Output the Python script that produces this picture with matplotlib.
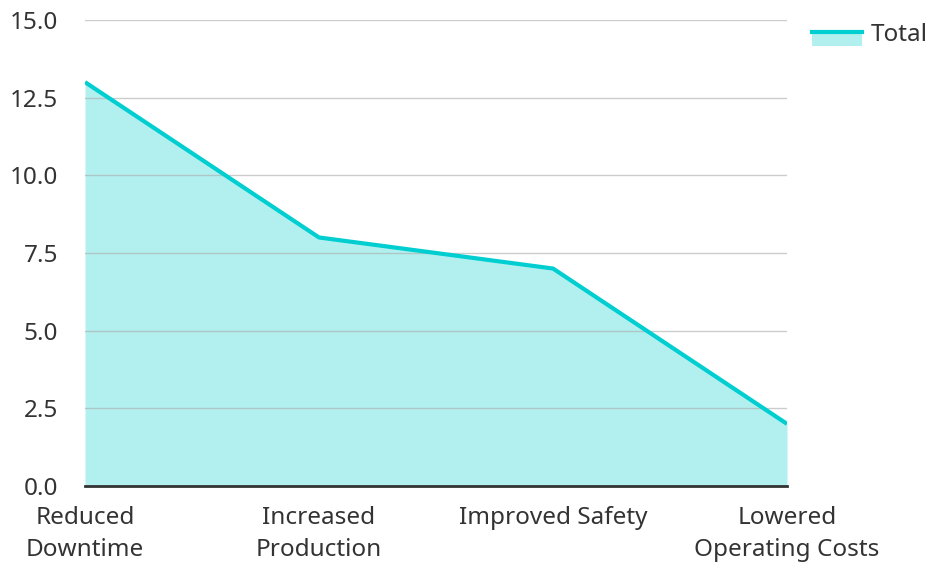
import matplotlib
matplotlib.use("Agg")
import matplotlib.pyplot as plt
from matplotlib.legend_handler import HandlerBase
from matplotlib.patches import Rectangle
from matplotlib.lines import Line2D

categories = ["Reduced\nDowntime", "Increased\nProduction", "Improved Safety", "Lowered\nOperating Costs"]
totals = [13.0, 8.0, 7.0, 2.0]
yticks = [0.0, 2.5, 5.0, 7.5, 10.0, 12.5, 15.0]

LINE = "#00CED1"
FILL = "#B2F0F0"
TEXT = "#333333"
FS = 17.5

plt.rcParams["font.family"] = ["Noto Sans", "DejaVu Sans"]

fig = plt.figure(figsize=(9.28, 5.62), dpi=100)
ax = fig.add_axes([85 / 928, 1 - 486 / 562, (787 - 85) / 928, (486 - 20) / 562])

x = list(range(len(categories)))
ax.fill_between(x, totals, 0, color=FILL, linewidth=0, zorder=1)
ax.plot(x, totals, color=LINE, linewidth=3, zorder=3, solid_capstyle="butt")

ax.set_xlim(0, len(categories) - 1)
ax.set_ylim(0, 15)
ax.set_yticks(yticks)
ax.set_yticklabels([f"{v:.1f}" for v in yticks])
ax.set_xticks(x)
ax.set_xticklabels(categories, linespacing=1.42)
ax.tick_params(axis="both", length=0, labelsize=FS, colors=TEXT)
ax.tick_params(axis="y", pad=19.5)
ax.tick_params(axis="x", pad=14.5)

ax.grid(axis="y", color="#aaaaaa", linewidth=1, alpha=0.6, zorder=2)
ax.set_axisbelow(False)
for s in ["left", "right", "top"]:
    ax.spines[s].set_visible(False)
ax.spines["bottom"].set_color(TEXT)
ax.spines["bottom"].set_linewidth(2)
ax.spines["bottom"].set_zorder(4)


class AreaHandler(HandlerBase):
    """Legend key for an area series: filled swatch with the series line on its top edge."""

    def create_artists(self, legend, orig_handle, xdescent, ydescent, width, height, fontsize, trans):
        top = -ydescent + height * 0.65
        rect = Rectangle((-xdescent, top - height), width, height,
                         facecolor=FILL, edgecolor="none", transform=trans)
        line = Line2D([-xdescent, -xdescent + width], [top - height * 0.1] * 2,
                      color=LINE, linewidth=3, transform=trans)
        return [rect, line]


proxy = Rectangle((0, 0), 1, 1)
leg = fig.legend([proxy], ["Total"], handler_map={Rectangle: AreaHandler()},
                 loc="upper left", bbox_to_anchor=(812 / 928, 1 - 23 / 562),
                 frameon=False, fontsize=FS, handlelength=2.06, handleheight=0.62,
                 handletextpad=0.36, borderpad=0, borderaxespad=0, labelcolor=TEXT)

fig.savefig("out.png", dpi=100)
